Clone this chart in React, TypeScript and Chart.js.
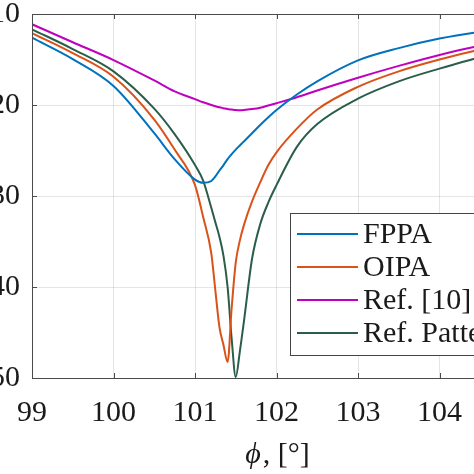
import React, { useEffect, useRef } from "react";
import { Chart, registerables } from "chart.js";

Chart.register(...registerables);

const phi = [99, 99.5, 100, 100.5, 100.75, 101, 101.1, 101.2, 101.25, 101.3, 101.35, 101.4, 101.45, 101.5, 101.55, 101.6, 101.7, 101.8, 101.9, 102, 102.25, 102.5, 103, 103.5, 104, 104.5, 105];
const fppa = [-12.6, -14.95, -17.9, -23.1, -25.95, -28.2, -28.55, -28.35, -27.85, -27.2, -26.6, -25.95, -25.4, -24.9, -24.45, -24.0, -23.1, -22.2, -21.35, -20.55, -18.85, -17.4, -15.1, -13.75, -12.7, -11.95, -11.35];
const oipa = [-12.1, -14.3, -16.9, -21.6, -24.9, -28.8, -32.3, -36.3, -40.4, -44.4, -46.4, -48.25, -42.3, -37.3, -34.9, -33.2, -30.6, -28.5, -26.6, -25.2, -22.6, -20.5, -18.0, -16.3, -15.0, -13.9, -13.0];
const ref10 = [-11.13, -13.1, -15.06, -17.3, -18.5, -19.35, -19.7, -20.0, -20.13, -20.25, -20.35, -20.45, -20.5, -20.55, -20.57, -20.55, -20.45, -20.3, -20.05, -19.8, -19.15, -18.4, -17.0, -15.7, -14.5, -13.5, -12.8];
const refPattern = [-11.68, -13.85, -16.3, -20.4, -23.2, -26.6, -28.3, -31.3, -32.9, -34.5, -36.6, -40.0, -45.7, -49.9, -47.1, -43.8, -36.9, -33.1, -30.7, -28.8, -24.6, -22.1, -19.3, -17.4, -16.0, -14.75, -13.8];

const seriesLabels = ["FPPA", "OIPA", "Ref. [10]", "Ref. Pattern"];
const seriesColors = ["#0072BD", "#D95319", "#C000C0", "#2A5E49"];
const xMin = 99;
const xMax = 105;
const yMin = -50;
const yMax = -10;
const axisTitleSymbol = "ϕ";
const axisTitleRest = ", [°]";

const FONT = "'Liberation Serif', 'Times New Roman', serif";
const FS = 30;

const decorPlugin = {
  id: "decor",
  afterDraw(chart: any) {
    const { ctx, chartArea } = chart;
    const { left, right, top, bottom } = chartArea;
    const xs = chart.scales.x;
    const ys = chart.scales.y;
    ctx.save();
    // frame
    ctx.strokeStyle = "#4a4a4a";
    ctx.lineWidth = 1;
    ctx.strokeRect(Math.round(left) + 0.5, Math.round(top) + 0.5, Math.round(right - left), Math.round(bottom - top));
    // inward ticks
    ctx.beginPath();
    xs.ticks.forEach((t: any) => {
      const px = Math.round(xs.getPixelForValue(t.value)) + 0.5;
      ctx.moveTo(px, bottom);
      ctx.lineTo(px, bottom - 5);
      ctx.moveTo(px, top);
      ctx.lineTo(px, top + 5);
    });
    ys.ticks.forEach((t: any) => {
      const py = Math.round(ys.getPixelForValue(t.value)) + 0.5;
      ctx.moveTo(left, py);
      ctx.lineTo(left + 5, py);
      ctx.moveTo(right, py);
      ctx.lineTo(right - 5, py);
    });
    ctx.stroke();

    // legend
    const lx = left + 258;
    const ly = top + 199;
    const lw = 240;
    const lh = 142;
    ctx.fillStyle = "#ffffff";
    ctx.fillRect(lx, ly, lw, lh);
    ctx.strokeStyle = "#444";
    ctx.strokeRect(lx + 0.5, ly + 0.5, lw, lh);
    ctx.font = `${FS}px ${FONT}`;
    ctx.textBaseline = "middle";
    ctx.textAlign = "left";
    chart.data.datasets.forEach((ds: any, i: number) => {
      const cy = ly + 21 + i * 33;
      ctx.strokeStyle = ds.borderColor;
      ctx.lineWidth = 2;
      ctx.beginPath();
      ctx.moveTo(lx + 7, cy);
      ctx.lineTo(lx + 68, cy);
      ctx.stroke();
      ctx.fillStyle = "#1a1a1a";
      ctx.fillText(ds.label, lx + 73, cy + 1);
    });

    // axis title
    const cx = (left + right) / 2;
    ctx.textBaseline = "alphabetic";
    ctx.font = `italic ${FS}px ${FONT}`;
    const w1 = ctx.measureText(axisTitleSymbol).width;
    ctx.font = `${FS}px ${FONT}`;
    const w2 = ctx.measureText(axisTitleRest).width;
    const startX = cx - (w1 + w2) / 2;
    const baseY = bottom + 85;
    ctx.fillStyle = "#1a1a1a";
    ctx.font = `italic ${FS}px ${FONT}`;
    ctx.fillText(axisTitleSymbol, startX, baseY);
    ctx.font = `${FS}px ${FONT}`;
    ctx.fillText(axisTitleRest, startX + w1 + 2, baseY);
    ctx.restore();
  },
};

export default function App() {
  const canvasRef = useRef<HTMLCanvasElement | null>(null);

  useEffect(() => {
    if (!canvasRef.current) return;
    const seriesValues = [fppa, oipa, ref10, refPattern];
    const chart = new Chart(canvasRef.current, {
      type: "line",
      data: {
        datasets: seriesValues.map((vals, i) => ({
          label: seriesLabels[i],
          data: phi.map((p, j) => ({ x: p, y: vals[j] })),
          borderColor: seriesColors[i],
          backgroundColor: seriesColors[i],
          borderWidth: 2,
          pointRadius: 0,
          cubicInterpolationMode: "monotone" as const,
          fill: false,
        })),
      },
      options: {
        animation: false,
        responsive: false,
        maintainAspectRatio: false,
        layout: { padding: { top: 14, right: 25, left: 0, bottom: 0 } },
        plugins: {
          legend: { display: false },
          tooltip: { enabled: false },
        },
        scales: {
          x: {
            type: "linear",
            min: xMin,
            max: xMax,
            afterFit: (s: any) => {
              s.height = 96;
              s.paddingLeft = 0;
              s.paddingRight = 0;
            },
            ticks: {
              stepSize: 1,
              padding: 17,
              color: "#1a1a1a",
              font: { family: FONT, size: FS },
              maxRotation: 0,
            },
            grid: { color: "rgba(0,0,0,0.10)", drawTicks: false },
            border: { display: false },
          },
          y: {
            type: "linear",
            min: yMin,
            max: yMax,
            afterFit: (s: any) => {
              s.width = 60;
              s.paddingTop = 0;
              s.paddingBottom = 0;
            },
            ticks: {
              stepSize: 10,
              padding: 12,
              color: "#1a1a1a",
              font: { family: FONT, size: FS },
            },
            grid: { color: "rgba(0,0,0,0.10)", drawTicks: false },
            border: { display: false },
          },
        },
      },
      plugins: [decorPlugin],
    });
    return () => chart.destroy();
  }, []);

  return (
    <div style={{ position: "fixed", left: 0, top: 0, width: 474, height: 474, overflow: "hidden", background: "#fff" }}>
      <div style={{ position: "absolute", left: -28, top: 0, width: 574, height: 474 }}>
        <canvas ref={canvasRef} width={574} height={474} style={{ width: 574, height: 474, display: "block" }} />
      </div>
    </div>
  );
}
